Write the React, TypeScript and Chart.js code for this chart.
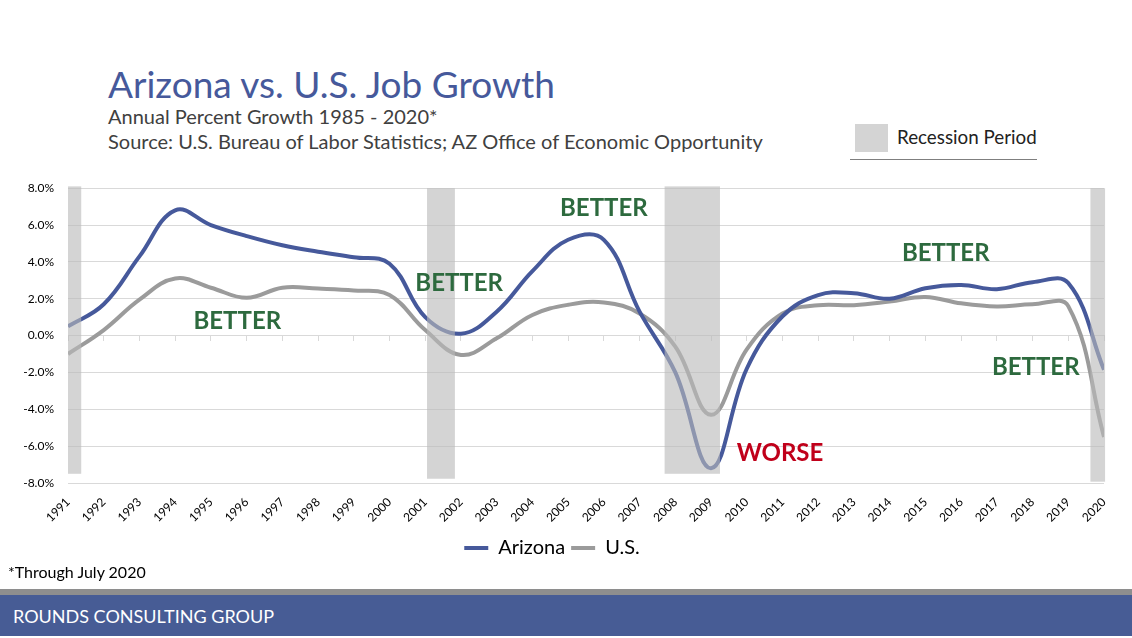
import React, { useEffect, useRef } from "react";
import { Chart, registerables } from "chart.js";

Chart.register(...registerables);

const years = [1991, 1992, 1993, 1994, 1995, 1996, 1997, 1998, 1999, 2000, 2001, 2002, 2003, 2004, 2005, 2006, 2007, 2008, 2009, 2010, 2011, 2012, 2013, 2014, 2015, 2016, 2017, 2018, 2019, 2020];
const arizona = [0.5, 1.7, 4.3, 6.8, 6.0, 5.4, 4.9, 4.55, 4.25, 3.9, 1.0, 0.1, 1.3, 3.5, 5.2, 5.2, 1.3, -2.0, -7.2, -1.8, 1.05, 2.2, 2.3, 2.0, 2.57, 2.75, 2.52, 2.9, 2.85, -1.85];
const us = [-1.0, 0.3, 1.95, 3.1, 2.6, 2.05, 2.6, 2.55, 2.45, 2.2, 0.3, -1.05, -0.15, 1.12, 1.67, 1.8, 1.2, -0.6, -4.3, -0.75, 1.2, 1.65, 1.65, 1.85, 2.1, 1.75, 1.58, 1.7, 1.6, -5.5];
const yTickValues = [-8, -6, -4, -2, 0, 2, 4, 6, 8];

const recessionStart = [1991.0, 2001.05, 2007.7, 2019.62];
const recessionEnd = [1991.37, 2001.83, 2009.25, 2020.03];
const recessionTop = [8.1, 8.0, 8.1, 8.0];
const recessionBottom = [-7.5, -7.77, -7.5, -7.93];

const noteText = ["BETTER", "BETTER", "BETTER", "WORSE", "BETTER", "BETTER"];
const noteYear = [1995.74, 2001.95, 2006.0, 2010.93, 2015.57, 2018.09];
const noteValue = [0.76, 2.83, 6.9, -6.4, 4.46, -1.74];

const AZ_COLOR = "#46599b";
const US_COLOR = "#9b9b9b";
const FONT = "Lato, 'Open Sans', sans-serif";

const overlayPlugin = {
  id: "overlay",
  afterDatasetsDraw(chart: any) {
    const { ctx, scales } = chart;
    const x = scales.x;
    const y = scales.y;
    ctx.save();
    ctx.fillStyle = "rgba(185,185,185,0.62)";
    for (let i = 0; i < recessionStart.length; i++) {
      const x0 = x.getPixelForValue(recessionStart[i]);
      const x1 = x.getPixelForValue(recessionEnd[i]);
      const y0 = y.getPixelForValue(recessionTop[i]);
      const y1 = y.getPixelForValue(recessionBottom[i]);
      ctx.fillRect(x0, y0, x1 - x0, y1 - y0);
    }
    ctx.font = "bold 24px " + FONT;
    ctx.textAlign = "center";
    ctx.textBaseline = "middle";
    for (let i = 0; i < noteText.length; i++) {
      ctx.fillStyle = noteText[i] === "WORSE" ? "#c0001a" : "#2d6a3e";
      ctx.fillText(noteText[i], x.getPixelForValue(noteYear[i]), y.getPixelForValue(noteValue[i]));
    }
    ctx.restore();
  },
};

function ChartCanvas() {
  const ref = useRef<HTMLCanvasElement | null>(null);
  useEffect(() => {
    if (!ref.current) return;
    const chart = new Chart(ref.current, {
      type: "line",
      data: {
        datasets: [
          {
            label: "Arizona",
            data: years.map((yr, i) => ({ x: yr, y: arizona[i] })),
            borderColor: AZ_COLOR,
            backgroundColor: AZ_COLOR,
            borderWidth: 4,
            pointRadius: 0,
            tension: 0.4,
          },
          {
            label: "U.S.",
            data: years.map((yr, i) => ({ x: yr, y: us[i] })),
            borderColor: US_COLOR,
            backgroundColor: US_COLOR,
            borderWidth: 4,
            pointRadius: 0,
            tension: 0.4,
          },
        ],
      },
      options: {
        animation: false,
        responsive: false,
        maintainAspectRatio: false,
        layout: { padding: { top: 14, right: 28, left: 0, bottom: 0 } },
        scales: {
          x: {
            type: "linear",
            min: 1991,
            max: 2020,
            grid: { display: false },
            border: { display: false },
            ticks: {
              stepSize: 1,
              autoSkip: false,
              maxRotation: 45,
              minRotation: 45,
              padding: 4,
              color: "#000",
              font: { family: FONT, size: 12 },
              callback: (v: any) => String(v),
            },
            afterFit: (s: any) => {
              s.height = 49;
            },
          },
          x2: {
            type: "linear",
            min: 1991,
            max: 2020,
            position: { y: 0 },
            grid: { drawOnChartArea: false, drawTicks: true, tickLength: 5, color: "#d9d9d9" },
            border: { display: true, color: "#d9d9d9" },
            ticks: { stepSize: 1, autoSkip: false, display: true, color: "rgba(0,0,0,0)", maxRotation: 0, minRotation: 0, callback: () => "" },
          },
          y: {
            min: -8,
            max: 8,
            afterBuildTicks: (s: any) => {
              s.ticks = yTickValues.map((v) => ({ value: v }));
            },
            ticks: {
              padding: 14,
              color: "#000",
              font: { family: FONT, size: 12 },
              callback: (v: any) => Number(v).toFixed(1) + "%",
            },
            grid: { color: "#d9d9d9", drawTicks: false },
            border: { display: false },
            afterFit: (s: any) => {
              s.width = 68;
            },
          },
        },
        plugins: {
          tooltip: { enabled: false },
          legend: {
            position: "bottom",
            labels: {
              boxWidth: 24,
              boxHeight: 4,
              padding: 6,
              color: "#000",
              font: { family: FONT, size: 20 },
              generateLabels: (c: any) =>
                c.data.datasets.map((d: any, i: number) => ({
                  text: d.label,
                  fillStyle: d.borderColor,
                  strokeStyle: d.borderColor,
                  lineWidth: 0,
                  fontColor: "#000",
                  hidden: false,
                  datasetIndex: i,
                })),
            },
          },
        },
      },
      plugins: [overlayPlugin],
    } as any);
    return () => chart.destroy();
  }, []);
  return <canvas ref={ref} width={1132} height={401} style={{ position: "absolute", left: 0, top: 167, width: 1132, height: 401 }} />;
}

export default function App() {
  const abs = (s: any) => ({ position: "absolute" as const, whiteSpace: "nowrap" as const, lineHeight: 1, fontFamily: FONT, ...s });
  return (
    <div style={{ position: "fixed", left: 0, top: 0, width: 1132, height: 638, background: "#fff", overflow: "hidden" }}>
      <div style={abs({ left: 108, top: 65, fontSize: 37, color: AZ_COLOR })}>Arizona vs. U.S. Job Growth</div>
      <div style={abs({ left: 108, top: 106, fontSize: 20, color: "#404040" })}>Annual Percent Growth 1985 - 2020*</div>
      <div style={abs({ left: 108, top: 131, fontSize: 20, color: "#404040" })}>Source: U.S. Bureau of Labor Statistics; AZ Office of Economic Opportunity</div>
      <div style={{ position: "absolute", left: 855, top: 124, width: 33, height: 28, background: "#d4d4d4" }} />
      <div style={abs({ left: 897, top: 128, fontSize: 18.8, color: "#222" })}>Recession Period</div>
      <div style={{ position: "absolute", left: 850, top: 159, width: 187, height: 1, background: "#7f7f7f" }} />
      <ChartCanvas />
      <div style={abs({ left: 8, top: 564, fontSize: 16, color: "#000" })}>*Through July 2020</div>
      <div style={{ position: "absolute", left: 0, top: 589, width: 1132, height: 6, background: "#8e8e8e" }} />
      <div style={{ position: "absolute", left: 0, top: 595, width: 1132, height: 41, background: "#475c95" }} />
      <div style={abs({ left: 13, top: 607, fontSize: 18, color: "#fff" })}>ROUNDS CONSULTING GROUP</div>
    </div>
  );
}
